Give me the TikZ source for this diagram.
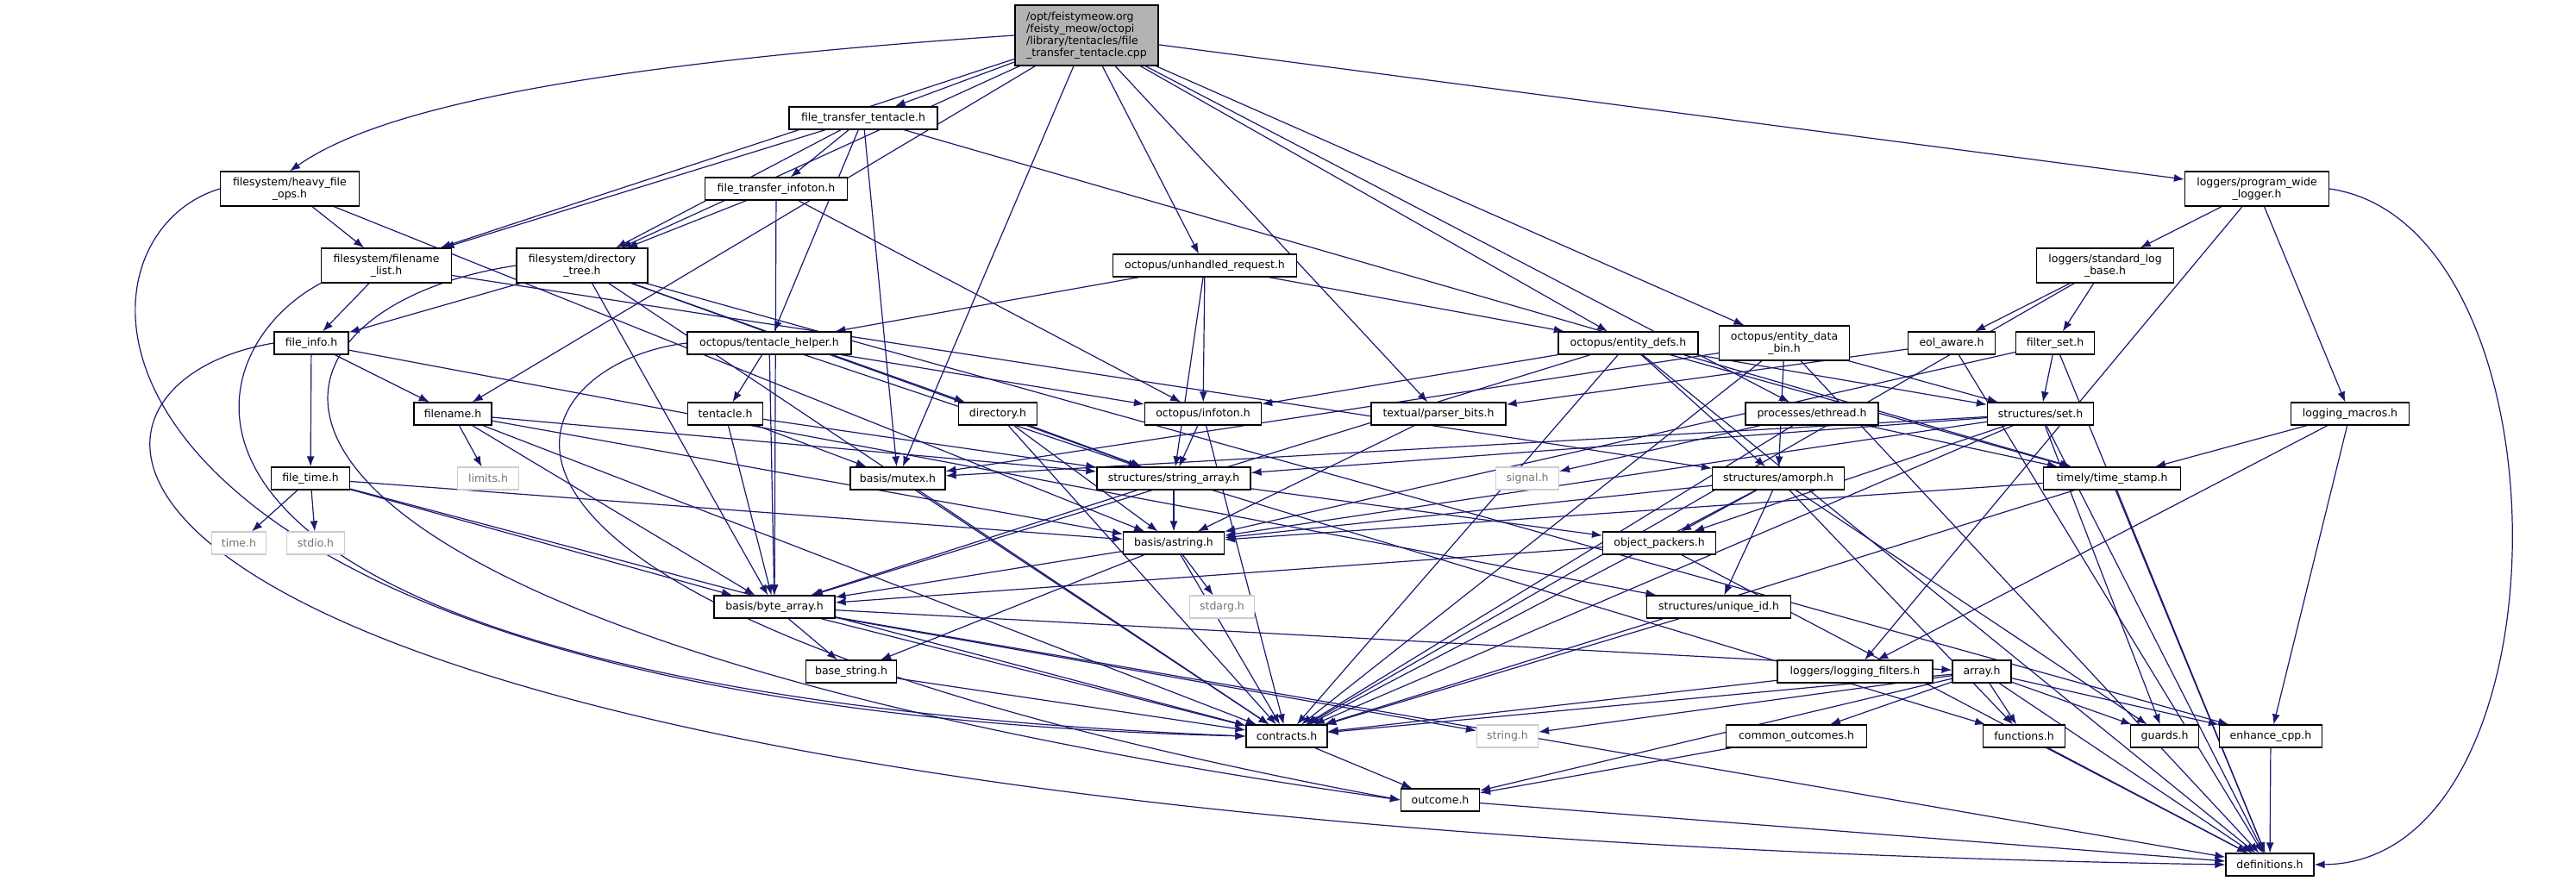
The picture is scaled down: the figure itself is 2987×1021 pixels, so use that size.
\documentclass[tikz,border=0pt]{standalone}
\usepackage{fontspec}
\setmainfont{DejaVu Sans}
\usetikzlibrary{arrows.meta}
\pgfdeclarelayer{bg}
\pgfsetlayers{bg,main}
\definecolor{edge}{HTML}{191970}
\tikzset{
 n/.style={draw=black,line width=1.2pt,fill=white,inner sep=2pt,font=\fontsize{12.5}{14}\selectfont,align=center},
 g/.style={draw=gray!40,line width=1.2pt,fill=white,inner sep=2pt,font=\fontsize{12.5}{14}\selectfont,text=gray!90!black},
 e/.style={draw=edge,line width=1.2pt,-{Latex[length=12pt,width=9pt]}},
}
\newcommand{\nd}[6][n]{\node[#1,minimum width=#4pt,minimum height=#5pt] (#2) at (#3) {#6};}
\begin{document}
\begin{tikzpicture}[x=1pt,y=-1pt]
\useasboundingbox (0,0) rectangle (2987,1021);
\node[n,fill=gray!60,minimum width=166pt,minimum height=70pt,align=left] (root) at (1260,41) {/opt/feistymeow.org\\/feisty\_meow/octopi\\/library/tentacles/file\\\_transfer\_tentacle.cpp};
\nd{ftt}{1001,137}{172}{26}{file\_transfer\_tentacle.h}
\nd{heavy}{336,219}{161}{40}{filesystem/heavy\_file\\\_ops.h}
\nd{flist}{448,308}{151}{40}{filesystem/filename\\\_list.h}
\nd{dtree}{675,308}{152}{40}{filesystem/directory\\\_tree.h}
\nd{fti}{900,219}{165}{26}{file\_transfer\_infoton.h}
\nd{finfo}{361,398}{86}{26}{file\_info.h}
\nd{thelp}{892,398}{190}{26}{octopus/tentacle\_helper.h}
\nd{fname}{525,480}{90}{26}{filename.h}
\nd{tent}{841,480}{87}{26}{tentacle.h}
\nd{ftime}{360,555}{91}{26}{file\_time.h}
\nd[g]{limits}{566,555}{71}{26}{limits.h}
\nd[g]{timeh}{277,630}{63}{26}{time.h}
\nd[g]{stdio}{366,630}{67}{26}{stdio.h}
\nd{barr}{898,704}{140}{26}{basis/byte\_array.h}
\nd{bstr}{987,779}{105}{26}{base\_string.h}
\nd{unh}{1397,308}{213}{26}{octopus/unhandled\_request.h}
\nd{edefs}{1888,398}{162}{26}{octopus/entity\_defs.h}
\nd{dir}{1157,480}{91}{26}{directory.h}
\nd{info}{1395,480}{135}{26}{octopus/infoton.h}
\nd{parser}{1668,480}{156}{26}{textual/parser\_bits.h}
\nd{edb}{2069,398}{151}{40}{octopus/entity\_data\\\_bin.h}
\nd{pwl}{2617,219}{167}{40}{loggers/program\_wide\\\_logger.h}
\nd{slb}{2441,308}{159}{40}{loggers/standard\_log\\\_base.h}
\nd{eol}{2263,398}{101}{26}{eol\_aware.h}
\nd{fset}{2383,398}{91}{26}{filter\_set.h}
\nd{ethr}{2101,480}{154}{26}{processes/ethread.h}
\nd{set}{2366,480}{123}{26}{structures/set.h}
\nd{lmac}{2725,480}{137}{26}{logging\_macros.h}
\nd{mutex}{1041,555}{110}{26}{basis/mutex.h}
\nd{sarr}{1361,555}{178}{26}{structures/string\_array.h}
\nd[g]{signal}{1771,555}{73}{26}{signal.h}
\nd{amorph}{2062,555}{153}{26}{structures/amorph.h}
\nd{tstamp}{2449,555}{159}{26}{timely/time\_stamp.h}
\nd{astr}{1361,630}{117}{26}{basis/astring.h}
\nd{opack}{1924,630}{131}{26}{object\_packers.h}
\nd[g]{stdarg}{1417,704}{75}{26}{stdarg.h}
\nd{uid}{1993,704}{167}{26}{structures/unique\_id.h}
\nd{contr}{1492,854}{94}{26}{contracts.h}
\nd[g]{strh}{1748,854}{71}{26}{string.h}
\nd{outc}{1670,928}{91}{26}{outcome.h}
\nd{lfilt}{2151,779}{180}{26}{loggers/logging\_filters.h}
\nd{arr}{2298,779}{68}{26}{array.h}
\nd{cout}{2083,854}{163}{26}{common\_outcomes.h}
\nd{func}{2347,854}{95}{26}{functions.h}
\nd{guards}{2510,854}{79}{26}{guards.h}
\nd{ecpp}{2633,854}{119}{26}{enhance\_cpp.h}
\nd{defs}{2632,1003}{102}{26}{definitions.h}
\begin{pgfonlayer}{bg}
\foreach \a/\b in {root/flist,root/dtree,root/fname,root/ftt,root/mutex,root/unh,root/parser,root/ethr,root/edefs,root/edb,root/pwl,
 ftt/flist,ftt/dtree,ftt/fti,ftt/thelp,ftt/mutex,ftt/tstamp,
 heavy/flist,heavy/astr,
 flist/finfo,flist/amorph,
 dtree/finfo,dtree/contr,dtree/barr,dtree/sarr,dtree/dir,dtree/ecpp,
 fti/dtree,fti/barr,fti/info,
 finfo/fname,finfo/ftime,finfo/uid,
 thelp/tent,thelp/barr,thelp/info,thelp/sarr,
 fname/limits,fname/astr,fname/barr,fname/contr,fname/sarr,
 tent/mutex,tent/sarr,tent/barr,
 ftime/timeh,ftime/stdio,ftime/barr,ftime/astr,ftime/contr,
 unh/thelp,unh/info,unh/sarr,unh/edefs,
 edefs/info,edefs/set,edefs/contr,edefs/barr,edefs/amorph,edefs/defs,edefs/tstamp,
 edb/set,edb/contr,edb/amorph,edb/defs,edb/mutex,
 dir/sarr,dir/astr,dir/contr,
 info/sarr,info/contr,
 parser/astr,
 ethr/signal,ethr/tstamp,ethr/contr,
 pwl/slb,pwl/lmac,pwl/lfilt,
 slb/eol,slb/fset,slb/contr,
 eol/parser,eol/defs,
 fset/set,fset/astr,fset/defs,
 set/mutex,set/sarr,set/opack,set/guards,set/contr,set/defs,set/astr,
 lmac/tstamp,lmac/ecpp,lmac/lfilt,
 mutex/contr,
 sarr/astr,sarr/opack,sarr/barr,sarr/func,
 amorph/astr,amorph/opack,amorph/func,amorph/guards,amorph/contr,amorph/uid,
 tstamp/astr,tstamp/contr,tstamp/defs,
 astr/barr,astr/bstr,astr/stdarg,astr/contr,
 opack/barr,opack/defs,
 uid/contr,
 barr/bstr,barr/contr,barr/strh,barr/arr,barr/defs,
 bstr/contr,lfilt/contr,
 arr/contr,arr/strh,arr/cout,arr/func,arr/guards,arr/ecpp,arr/outc,arr/defs,
 cout/outc,contr/outc,outc/defs,func/defs,ecpp/defs}
 {\draw[e] (\a) -- (\b);}
\draw[e] (root.west) .. controls (600,80) and (420,140) .. (heavy.north);
\draw[e] (finfo.west) .. controls (0,450) and (0,960) .. (defs.west);
\draw[e] (heavy.west) .. controls (50,280) and (50,820) .. (contr.west);
\draw[e] (flist.south west) .. controls (200,420) and (120,800) .. (contr.west);
\draw[e] (dtree.west) .. controls (250,360) and (150,720) .. (outc.west);
\draw[e] (thelp.west) .. controls (600,420) and (400,700) .. (outc.west);
\draw[e] (pwl.east) .. controls (2985,260) and (2985,1000) .. (defs.east);
\end{pgfonlayer}
\end{tikzpicture}
\end{document}
